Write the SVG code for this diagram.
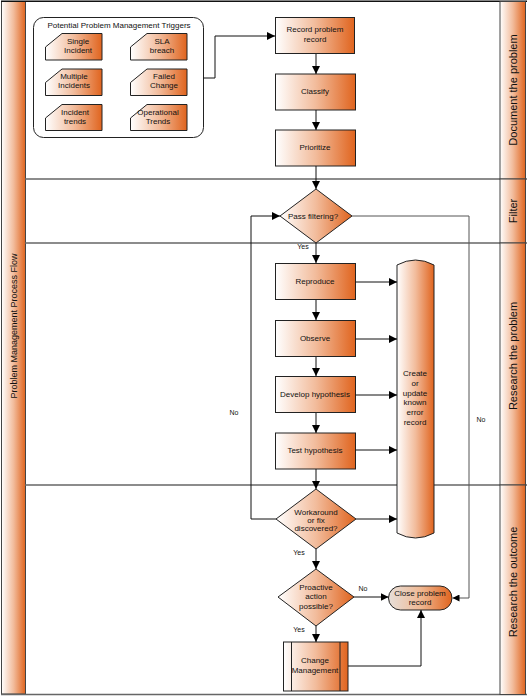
<svg xmlns="http://www.w3.org/2000/svg" width="528" height="697" viewBox="0 0 528 697">
<defs>
<linearGradient id="og" x1="0" y1="0" x2="1" y2="0">
<stop offset="0" stop-color="#ffffff"/>
<stop offset="0.5" stop-color="#f2bc9c"/>
<stop offset="1" stop-color="#e0641e"/>
</linearGradient>
<linearGradient id="gg" x1="0" y1="0" x2="1" y2="0">
<stop offset="0" stop-color="#e6dfda"/>
<stop offset="0.5" stop-color="#efb994"/>
<stop offset="1" stop-color="#e0641e"/>
</linearGradient>
<marker id="ah" viewBox="0 0 10 10" refX="10" refY="5" markerWidth="8" markerHeight="8" markerUnits="userSpaceOnUse" orient="auto">
<path d="M0,0 L10,5 L0,10 Z" fill="#000"/>
</marker>
<marker id="ahs" viewBox="0 0 10 10" refX="10" refY="5" markerWidth="7" markerHeight="7" markerUnits="userSpaceOnUse" orient="auto">
<path d="M0,0 L10,5 L0,10 Z" fill="#000"/>
</marker>
</defs>
<style>
text{font-family:"Liberation Sans",Arial,sans-serif;fill:#111;}
.t{font-size:8px;text-anchor:middle;}
.s{font-size:7px;text-anchor:middle;}
.lane{font-size:11px;text-anchor:middle;}
.box{fill:url(#og);stroke:#222;stroke-width:1;}
.bar{fill:url(#og);stroke:#444;stroke-width:1;}
.sep{stroke:#666;stroke-width:1.6;fill:none;}
.c{fill:none;stroke:#111;stroke-width:1;}
.cg{fill:none;stroke:#555;stroke-width:1;}
</style>
<rect x="0" y="0" width="528" height="697" fill="#ffffff"/>
<g id="pool">
<rect class="bar" x="1.5" y="1.5" width="24" height="692.5"/>
<text style="font-size:9px;text-anchor:middle" transform="translate(17,326) rotate(-90)">Problem Management Process Flow</text>
<line x1="1" y1="1.2" x2="527" y2="1.2" stroke="#111" stroke-width="1.5"/>
<line class="sep" x1="25" y1="179" x2="527" y2="179"/>
<line class="sep" x1="25" y1="243" x2="527" y2="243"/>
<line class="sep" x1="25" y1="485" x2="527" y2="485"/>
<line class="sep" x1="1" y1="694.5" x2="527" y2="694.5"/>
</g>
<g id="lane-document">
<rect class="bar" x="500" y="1.5" width="25.5" height="177.5"/>
<text class="lane" transform="translate(517,90) rotate(-90)">Document the problem</text>
</g>
<g id="lane-filter">
<rect class="bar" x="500" y="179" width="25.5" height="64"/>
<text class="lane" transform="translate(517,211) rotate(-90)">Filter</text>
</g>
<g id="lane-research-problem">
<rect class="bar" x="500" y="243" width="25.5" height="242"/>
<text class="lane" transform="translate(517,356) rotate(-90)">Research the problem</text>
</g>
<g id="lane-research-outcome">
<rect class="bar" x="500" y="485" width="25.5" height="209.5"/>
<text class="lane" transform="translate(517,582) rotate(-90)">Research the outcome</text>
</g>
<g id="triggers">
<rect x="33.5" y="17.5" width="170" height="120" rx="10" ry="10" fill="#fff" stroke="#222" stroke-width="1"/>
<text class="t" x="119" y="28">Potential Problem Management Triggers</text>
</g>
<g id="single-incident">
<path class="box" d="M62,33.5 H102 V60 H45.5 V47 Z"/>
<text class="t" x="78" y="44">Single</text><text class="t" x="78" y="53">Incident</text>
</g>
<g id="sla-breach">
<path class="box" d="M147,33.5 H187 V60 H130.5 V47 Z"/>
<text class="t" x="162" y="44">SLA</text><text class="t" x="162" y="53">breach</text>
</g>
<g id="multiple-incidents">
<path class="box" d="M62,69 H102 V95.5 H45.5 V82.5 Z"/>
<text class="t" x="74" y="79">Multiple</text><text class="t" x="74" y="88">Incidents</text>
</g>
<g id="failed-change">
<path class="box" d="M147,69 H187 V95.5 H130.5 V82.5 Z"/>
<text class="t" x="164" y="79">Failed</text><text class="t" x="164" y="88">Change</text>
</g>
<g id="incident-trends">
<path class="box" d="M62,104.5 H102 V130.5 H45.5 V118 Z"/>
<text class="t" x="75" y="115">Incident</text><text class="t" x="75" y="124">trends</text>
</g>
<g id="operational-trends">
<path class="box" d="M147,104.5 H187 V130.5 H130.5 V118 Z"/>
<text class="t" x="158" y="115">Operational</text><text class="t" x="158" y="124">Trends</text>
</g>
<g id="record-problem">
<rect class="box" x="275.5" y="17.5" width="79" height="36"/>
<text class="t" x="315" y="32">Record problem</text><text class="t" x="315" y="42">record</text>
</g>
<g id="classify">
<rect class="box" x="275.5" y="74" width="80" height="36"/>
<text class="t" x="315" y="94">Classify</text>
</g>
<g id="prioritize">
<rect class="box" x="275.5" y="130" width="80" height="36"/>
<text class="t" x="315" y="150">Prioritize</text>
</g>
<g id="pass-filtering">
<polygon class="box" points="316,189 352,216 316,243 280,216"/>
<text class="t" x="313" y="219">Pass filtering?</text>
</g>
<g id="reproduce">
<rect class="box" x="275.5" y="263.5" width="80" height="36"/>
<text class="t" x="315" y="284">Reproduce</text>
</g>
<g id="observe">
<rect class="box" x="275.5" y="320.5" width="80" height="36"/>
<text class="t" x="315" y="341">Observe</text>
</g>
<g id="develop-hypothesis">
<rect class="box" x="275.5" y="376.5" width="80" height="36"/>
<text class="t" x="315" y="397">Develop hypothesis</text>
</g>
<g id="test-hypothesis">
<rect class="box" x="275.5" y="433" width="80" height="36"/>
<text class="t" x="315" y="453">Test hypothesis</text>
</g>
<g id="known-error-record">
<path class="box" d="M397,265 Q415.5,255 434,265 V533 Q415.5,543 397,533 Z"/>
<text class="t" x="415" y="376">Create</text>
<text class="t" x="415" y="386">or</text>
<text class="t" x="415" y="396">update</text>
<text class="t" x="415" y="405">known</text>
<text class="t" x="415" y="415">error</text>
<text class="t" x="415" y="425">record</text>
</g>
<g id="workaround">
<polygon class="box" points="316,489 356,519 316,549 276,519"/>
<text class="t" x="316" y="515">Workaround</text>
<text class="t" x="316" y="523">or fix</text>
<text class="t" x="316" y="531">discovered?</text>
</g>
<g id="proactive">
<polygon class="box" points="316,569 354,597 316,626 278,597"/>
<text class="t" x="316" y="590">Proactive</text>
<text class="t" x="316" y="599">action</text>
<text class="t" x="316" y="609">possible?</text>
</g>
<g id="close-problem">
<rect x="388.5" y="586" width="63.5" height="24" rx="12" ry="12" fill="url(#gg)" stroke="#222" stroke-width="1"/>
<text class="t" x="420" y="596">Close problem</text>
<text class="t" x="420" y="605">record</text>
</g>
<g id="change-management">
<rect class="box" x="283.5" y="642" width="64.5" height="49"/>
<line x1="291.5" y1="642" x2="291.5" y2="691" stroke="#222"/>
<line x1="340" y1="642" x2="340" y2="691" stroke="#222"/>
<text class="t" x="315" y="663">Change</text>
<text class="t" x="315" y="673">Management</text>
</g>
<g id="connectors">
<path class="c" d="M203.5,78 H215 V36 H275" marker-end="url(#ah)"/>
<path class="c" d="M316,54 V74" marker-end="url(#ah)"/>
<path class="c" d="M316,110 V130" marker-end="url(#ah)"/>
<path class="c" d="M316,166 V189" marker-end="url(#ah)"/>
<path class="c" d="M316,243 V263" marker-end="url(#ah)"/>
<path class="cg" d="M352,216 H469 V598 H452.5" marker-end="url(#ahs)"/>
<path class="c" d="M316,300 V320" marker-end="url(#ah)"/>
<path class="c" d="M316,357 V376" marker-end="url(#ah)"/>
<path class="c" d="M316,413 V433" marker-end="url(#ah)"/>
<path class="c" d="M316,469 V489" marker-end="url(#ah)"/>
<path class="c" d="M355.5,282 H397" marker-end="url(#ah)"/>
<path class="c" d="M355.5,339 H397" marker-end="url(#ah)"/>
<path class="c" d="M355.5,395 H397" marker-end="url(#ah)"/>
<path class="c" d="M355.5,450 H397" marker-end="url(#ah)"/>
<path class="c" d="M356,519 H397" marker-end="url(#ah)"/>
<path class="c" d="M276,519 H251 V216 H280" marker-end="url(#ah)"/>
<path class="c" d="M316,549 V569" marker-end="url(#ah)"/>
<path class="c" d="M354,597 H388.5" marker-end="url(#ah)"/>
<path class="c" d="M316,626 V642" marker-end="url(#ah)"/>
<path class="c" d="M348,666 H421 V610" marker-end="url(#ah)"/>
<text class="s" x="303" y="249">Yes</text>
<text class="s" x="234" y="415">No</text>
<text class="s" x="481" y="422">No</text>
<text class="s" x="299" y="555">Yes</text>
<text class="s" x="363" y="591">No</text>
<text class="s" x="299" y="632">Yes</text>
</g>
</svg>
